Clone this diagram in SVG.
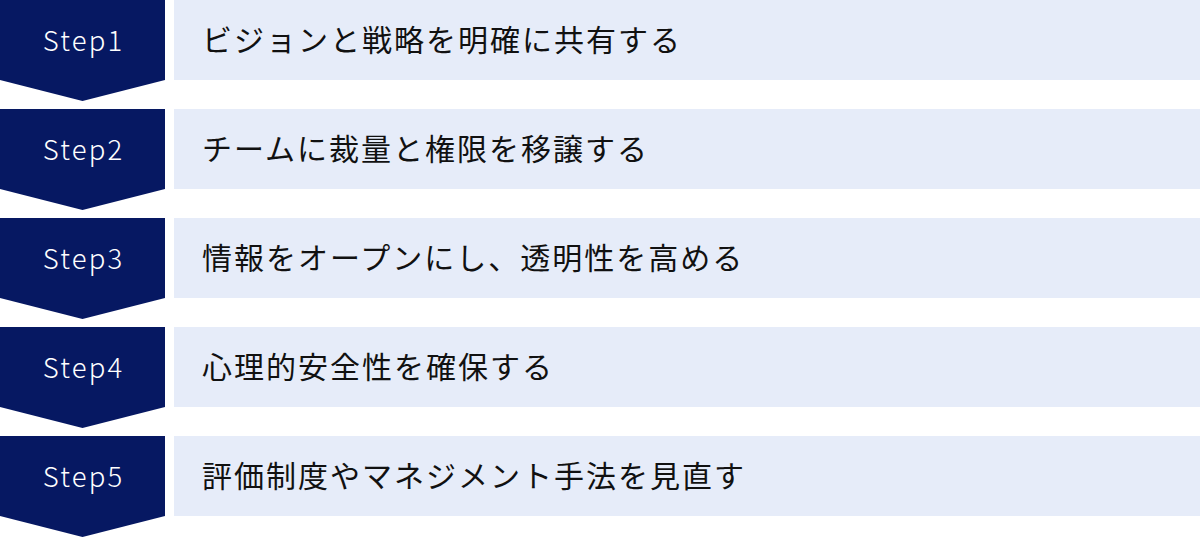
<svg xmlns="http://www.w3.org/2000/svg" width="1200" height="538" viewBox="0 0 1200 538">
<style>
.chev{fill:#061862}
.bar{fill:#E6ECF9}
.step{font-family:"Noto Sans CJK JP","Noto Sans",sans-serif;font-size:27.5px;font-weight:300;fill:#FFFFFF;letter-spacing:2.2px;text-anchor:middle}
.txt{font-family:"Noto Sans CJK JP",sans-serif;font-size:30px;fill:#111111;letter-spacing:2px}
</style>
<defs>
<polygon id="chevShape" points="0,0 165,0 165,80 82.5,101 0,80"/>
</defs>
<rect width="1200" height="538" fill="#FFFFFF"/>
<g id="step1">
<use href="#chevShape" class="chev"/>
<rect class="bar" x="174" y="0" width="1026" height="80"/>
<text class="step" x="83.6" y="51">Step1</text>
<text class="txt" x="202" y="51">ビジョンと戦略を明確に共有する</text>
</g>
<g id="step2" transform="translate(0,109)">
<use href="#chevShape" class="chev"/>
<rect class="bar" x="174" y="0" width="1026" height="80"/>
<text class="step" x="83.6" y="51">Step2</text>
<text class="txt" x="202" y="51">チームに裁量と権限を移譲する</text>
</g>
<g id="step3" transform="translate(0,218)">
<use href="#chevShape" class="chev"/>
<rect class="bar" x="174" y="0" width="1026" height="80"/>
<text class="step" x="83.6" y="51">Step3</text>
<text class="txt" x="202" y="51">情報をオープンにし、透明性を高める</text>
</g>
<g id="step4" transform="translate(0,327)">
<use href="#chevShape" class="chev"/>
<rect class="bar" x="174" y="0" width="1026" height="80"/>
<text class="step" x="83.6" y="51">Step4</text>
<text class="txt" x="202" y="51">心理的安全性を確保する</text>
</g>
<g id="step5" transform="translate(0,436)">
<use href="#chevShape" class="chev"/>
<rect class="bar" x="174" y="0" width="1026" height="80"/>
<text class="step" x="83.6" y="51">Step5</text>
<text class="txt" x="202" y="51">評価制度やマネジメント手法を見直す</text>
</g>
<g id="connectors"></g>
</svg>
